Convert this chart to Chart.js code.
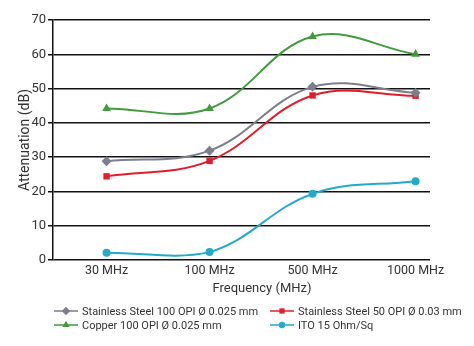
<!DOCTYPE html>
<html>
<head>
<meta charset="utf-8">
<script src="https://cdn.jsdelivr.net/npm/chart.js@4/dist/chart.umd.min.js"></script>
<style>
  html, body { margin: 0; padding: 0; background: #fff; }
  #wrap { width: 474px; height: 346px; }
</style>
</head>
<body>
<div id="wrap"><canvas id="attn"></canvas></div>
<script>
const freqLabels = ["30 MHz", "100 MHz", "500 MHz", "1000 MHz"];
const ss100 = [28.8, 31.9, 50.5, 48.8];
const ss50 = [24.4, 28.9, 48.0, 47.9];
const copper = [44.2, 44.2, 65.2, 60.0];
const ito = [2.1, 2.3, 19.3, 23.0];

const seriesNames = [
  "Stainless Steel 100 OPI Ø 0.025 mm",
  "Stainless Steel 50 OPI Ø 0.03 mm",
  "Copper 100 OPI Ø 0.025 mm",
  "ITO 15 Ohm/Sq"
];
const xTitle = "Frequency (MHz)";
const yTitle = "Attenuation (dB)";

function pts(arr) {
  return arr.map((v, i) => ({ x: i, y: v }));
}

function makeSet(name, values, color, style, radius) {
  return {
    label: name,
    data: pts(values),
    borderColor: color,
    backgroundColor: color,
    borderWidth: 2,
    pointStyle: style,
    pointRadius: radius,
    pointBorderWidth: 0,
    tension: 0.38
  };
}

// x title sits a little right of centre, legend is two columns of line + marker + name
const bottomPlugin = {
  id: "bottomLegend",
  afterDraw(chart) {
    const ctx = chart.ctx;
    ctx.save();
    ctx.fillStyle = "#333";
    ctx.font = "13px Roboto";
    ctx.textAlign = "center";
    ctx.textBaseline = "middle";
    ctx.fillText(xTitle, 262, 289);

    const cols = [54, 270];
    const rows = [311, 325];
    const place = [[0, 0], [1, 0], [0, 1], [1, 1]];
    ctx.font = "11px Roboto";
    ctx.textAlign = "left";
    chart.data.datasets.forEach((ds, i) => {
      const x = cols[place[i][0]];
      const y = rows[place[i][1]];
      ctx.strokeStyle = ds.borderColor;
      ctx.lineWidth = 1.5;
      ctx.beginPath();
      ctx.moveTo(x, y);
      ctx.lineTo(x + 24, y);
      ctx.stroke();
      ctx.fillStyle = ds.borderColor;
      Chart.helpers.drawPoint(ctx, { pointStyle: ds.pointStyle, radius: ds.pointRadius - 0.8, borderWidth: 0 }, x + 12, y);
      ctx.fillStyle = "#333";
      ctx.fillText(ds.label, x + 28, y + 1);
    });
    ctx.restore();
  }
};

new Chart(document.getElementById("attn"), {
  type: "line",
  data: {
    datasets: [
      makeSet(seriesNames[0], ss100, "#7d7d8c", "rectRot", 5),
      makeSet(seriesNames[1], ss50, "#e01e2b", "rect", 4.5),
      makeSet(seriesNames[2], copper, "#3f9b3c", "triangle", 5),
      makeSet(seriesNames[3], ito, "#22a9cc", "circle", 4)
    ]
  },
  options: {
    responsive: true,
    maintainAspectRatio: false,
    animation: false,
    layout: { padding: { top: 20, right: 44, bottom: 46, left: 0 } },
    plugins: {
      legend: { display: false },
      tooltip: { enabled: false }
    },
    scales: {
      x: {
        type: "linear",
        min: -0.52,
        max: 3.14,
        afterBuildTicks(scale) {
          scale.ticks = freqLabels.map((_, i) => ({ value: i }));
        },
        afterFit(scale) { scale.height = 40; },
        grid: { display: false, tickLength: 0 },
        border: { display: false },
        ticks: {
          callback: v => freqLabels[v],
          color: "#333",
          font: { family: "Roboto", size: 12.5 },
          padding: 3,
          maxRotation: 0
        }
      },
      y: {
        min: 0,
        max: 70,
        afterFit(scale) { scale.width = 53; },
        ticks: {
          stepSize: 10,
          color: "#333",
          font: { family: "Roboto", size: 13 },
          padding: 2
        },
        grid: {
          color: "#111",
          lineWidth: 1.5,
          tickLength: 5
        },
        border: { color: "#111", width: 1.5 },
        title: {
          display: true,
          text: yTitle,
          color: "#333",
          font: { family: "Roboto", size: 14 },
          padding: { top: 17, bottom: 0 }
        }
      }
    }
  },
  plugins: [bottomPlugin]
});
</script>
</body>
</html>
